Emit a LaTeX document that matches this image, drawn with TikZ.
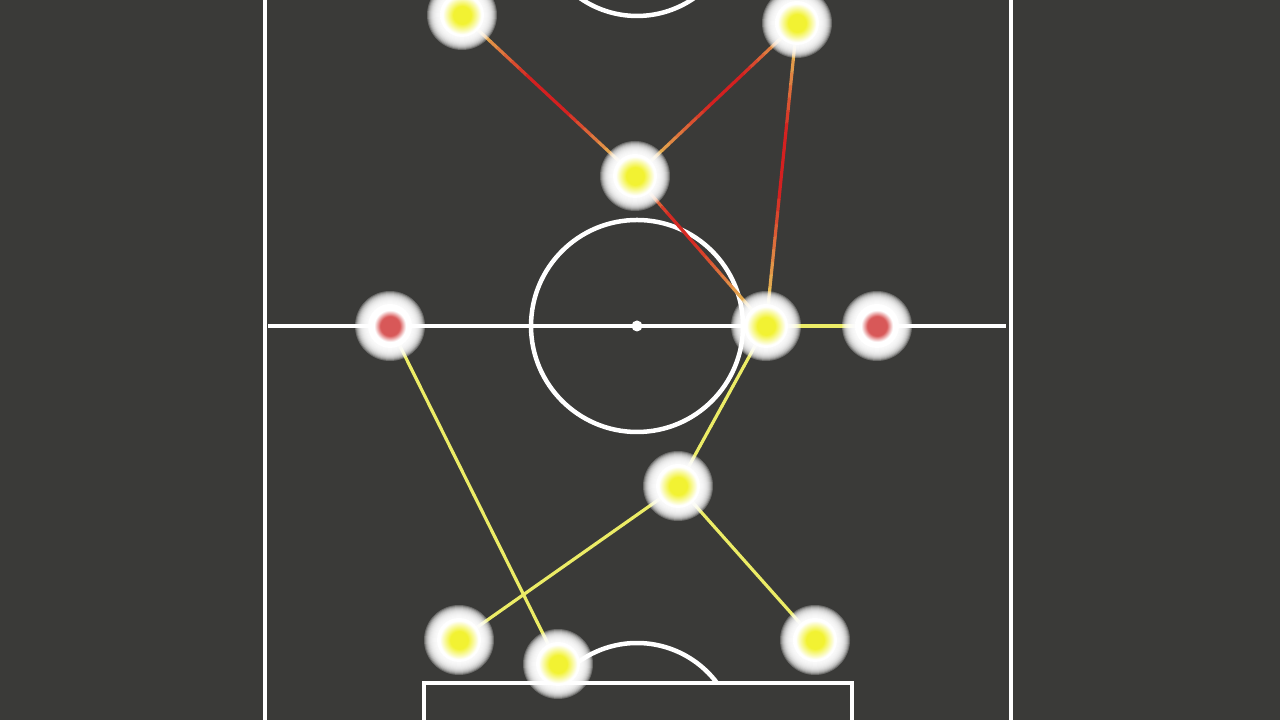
\documentclass[tikz,border=0pt]{standalone}
\usepackage{xcolor}
\usepackage{tikz}
\usetikzlibrary{calc,positioning}

\definecolor{pitchbg}{HTML}{3A3A38}
\definecolor{pyellow}{HTML}{F2F232}
\definecolor{pred}{HTML}{D85858}
\definecolor{passyellow}{HTML}{ECEC66}
\definecolor{passred}{HTML}{D42020}

\pgfdeclareradialshading{yellowcore}{\pgfpointorigin}{color(0bp)=(pyellow); color(10bp)=(pyellow); color(22bp)=(white); color(50bp)=(white)}
\pgfdeclareradialshading{redcore}{\pgfpointorigin}{color(0bp)=(pred); color(11bp)=(pred); color(18bp)=(white); color(50bp)=(white)}

\pgfdeclarelayer{pitch}
\pgfdeclarelayer{passes}
\pgfdeclarelayer{glow}
\pgfsetlayers{pitch,passes,glow,main}

% from, to, where the red peaks, how red
\newcommand{\passline}[4]{%
  \foreach \i in {0,...,23}{
    \pgfmathsetmacro{\ta}{\i/24}
    \pgfmathsetmacro{\tb}{(\i+1)/24}
    \pgfmathsetmacro{\tm}{(\i+0.5)/24}
    \pgfmathsetmacro{\tri}{\tm<#3 ? \tm/#3 : (1-\tm)/(1-#3)}
    \pgfmathsetmacro{\redpart}{#4*min(1,1.25*\tri)}
    \draw[pass,passred!\redpart!passyellow] ($(#1)!\ta!(#2)$) -- ($(#1)!\tb!(#2)$);
  }}

\begin{document}
\begin{tikzpicture}[line/.style={white,line width=0.045cm},
    pass/.style={line width=0.032cm,line cap=round},
    player/.style={circle,inner sep=0pt,minimum size=0.44cm,shade,shading=yellowcore},
    rival/.style={player,shading=redcore}]
  \useasboundingbox (0,0) rectangle (12.8,7.2);
  \begin{pgfonlayer}{pitch}
    \fill[pitchbg] (0,0) rectangle (12.8,7.2);
    \draw[line] (2.65,0) -- (2.65,7.2);
    \draw[line] (10.11,0) -- (10.11,7.2);
    \draw[line] (2.68,3.94) -- (10.06,3.94);
    \draw[line] (6.37,3.94) circle (1.06);
    \fill[white] (6.37,3.94) circle (0.055);
    \draw[line] (6.37,8.04) ++(233.13:1) arc (233.13:306.87:1);
    \draw[line] (6.37,-0.23) ++(36.87:1) arc (36.87:143.13:1);
    \draw[line] (4.24,-0.1) -- (4.24,0.37) -- (8.52,0.37) -- (8.52,-0.1);
  \end{pgfonlayer}

  \node[player] (lw)  at (4.62,7.05) {};
  \node[player] (rw)  at (7.97,6.97) {};
  \node[player] (am)  at (6.35,5.44) {};
  \node[rival]  (opl) at (3.90,3.94) {};
  \node[player] (cm)  at (7.66,3.94) {};
  \node[rival]  (opr) at (8.77,3.94) {};
  \node[player] (dm)  at (6.78,2.34) {};
  \node[player] (lb)  at (4.59,0.80) {};
  \node[player] (cb)  at (5.58,0.56) {};
  \node[player] (rb)  at (8.15,0.80) {};

  \begin{pgfonlayer}{glow}
    \foreach \p in {lw,rw,am,opl,cm,opr,dm,lb,cb,rb}
      \foreach \r in {0.22,0.23,...,0.355}
        \fill[white,opacity=0.25] (\p) circle (\r);
  \end{pgfonlayer}

  \begin{pgfonlayer}{passes}
    \passline{lw.center}{am.center}{0.5}{100}
    \passline{rw.center}{am.center}{0.42}{100}
    \passline{rw.center}{cm.center}{0.45}{100}
    \passline{am.center}{cm.center}{0.32}{95}
    \passline{cm.center}{opr.center}{0.5}{0}
    \passline{cm.center}{dm.center}{0.5}{0}
    \passline{dm.center}{lb.center}{0.5}{0}
    \passline{dm.center}{rb.center}{0.5}{0}
    \passline{opl.center}{cb.center}{0.5}{0}
  \end{pgfonlayer}
\end{tikzpicture}
\end{document}
